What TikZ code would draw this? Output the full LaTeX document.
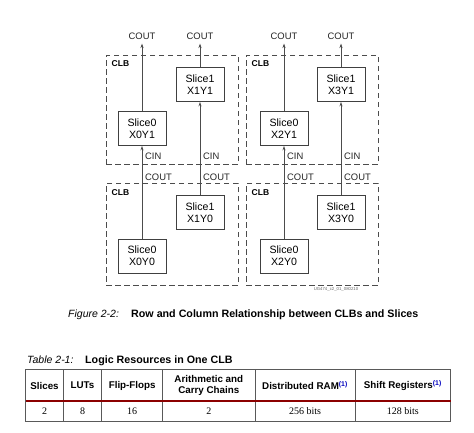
\documentclass[tikz,border=0pt]{standalone}
\usepackage{fontspec}
\setmainfont{Liberation Sans}
\newfontfamily\numfont{Liberation Serif}
\usetikzlibrary{arrows.meta}
\begin{document}
\begin{tikzpicture}[x=1pt,y=-1pt,
  clb/.style={draw=black!70, dash pattern=on 5.5pt off 3.5pt, line width=1pt, inner sep=0pt, outer sep=0pt},
  slicebox/.style={draw=black!75, line width=0.9pt, fill=white, minimum width=48pt, minimum height=34pt, align=center, font=\fontsize{10.6}{12.4}\selectfont, inner sep=0pt},
  carry/.style={draw=black!70, line width=0.7pt},
  arr/.style={carry, -{Stealth[length=4.5pt,width=3pt]}},
  lbl/.style={font=\fontsize{9.4}{10}\selectfont, inner sep=0pt, text=black!85},
  clblbl/.style={font=\bfseries\fontsize{8.5}{10}\selectfont, inner sep=0pt, anchor=west},
  hdr/.style={font=\bfseries\fontsize{9.8}{11.5}\selectfont, align=center, inner sep=0pt},
  cell/.style={font=\numfont\fontsize{10}{12}\selectfont, inner sep=0pt},
  tline/.style={draw=black!65, line width=0.8pt}
]
\useasboundingbox (0,0) rectangle (474,432);
\fill[white] (0,0) rectangle (474,432);

% CLB boxes
\node[clb, minimum width=132pt, minimum height=109pt] (clbTL) at (172,109.5) {};
\node[clb, minimum width=132pt, minimum height=109pt] (clbTR) at (312,109.5) {};
\node[clb, minimum width=132pt, minimum height=102pt] (clbBL) at (172,234) {};
\node[clb, minimum width=132pt, minimum height=102pt] (clbBR) at (312,234) {};

\node[clblbl] (lTL) at (111.5,63.5) {CLB};
\node[clblbl] (lTR) at (251.5,63.5) {CLB};
\node[clblbl] (lBL) at (111.5,192.5) {CLB};
\node[clblbl] (lBR) at (251.5,192.5) {CLB};

% Slices
\node[slicebox] (x0y1) at (142,128.5) {Slice0\\X0Y1};
\node[slicebox] (x1y1) at (200,84.5) {Slice1\\X1Y1};
\node[slicebox] (x2y1) at (284,128.5) {Slice0\\X2Y1};
\node[slicebox] (x3y1) at (341,84.5) {Slice1\\X3Y1};
\node[slicebox] (x0y0) at (142,256) {Slice0\\X0Y0};
\node[slicebox] (x1y0) at (200,212.5) {Slice1\\X1Y0};
\node[slicebox] (x2y0) at (284,256) {Slice0\\X2Y0};
\node[slicebox] (x3y0) at (341,212.5) {Slice1\\X3Y0};

% top outputs
\coordinate (t0) at (142,43.5);
\coordinate (t1) at (200,43.5);
\coordinate (t2) at (284,43.5);
\coordinate (t3) at (341,43.5);
\draw[arr] (x0y1.north) -- (t0);
\draw[arr] (x1y1.north) -- (t1);
\draw[arr] (x2y1.north) -- (t2);
\draw[arr] (x3y1.north) -- (t3);
\node[lbl] (c0) at (142,36) {COUT};
\node[lbl] (c1) at (200,36) {COUT};
\node[lbl] (c2) at (284,36) {COUT};
\node[lbl] (c3) at (341,36) {COUT};

% carry chains between rows
\draw[arr] (x0y0.north) -- (x0y1.south);
\draw[arr] (x1y0.north) -- (x1y1.south);
\draw[arr] (x2y0.north) -- (x2y1.south);
\draw[arr] (x3y0.north) -- (x3y1.south);

\node[lbl, anchor=west] (ci0) at (145,156) {CIN};
\node[lbl, anchor=west] (ci1) at (203,156) {CIN};
\node[lbl, anchor=west] (ci2) at (287,156) {CIN};
\node[lbl, anchor=west] (ci3) at (344,156) {CIN};
\node[lbl, anchor=west] (co0) at (145,177) {COUT};
\node[lbl, anchor=west] (co1) at (203,177) {COUT};
\node[lbl, anchor=west] (co2) at (287,177) {COUT};
\node[lbl, anchor=west] (co3) at (344,177) {COUT};

\node[font=\fontsize{4.3}{5}\selectfont, text=black!60, inner sep=0pt] (ug) at (336,289) {UG474\_c2\_01\_080210};

% caption
\node[anchor=base west, inner sep=0pt, font=\itshape\fontsize{10.5}{12}\selectfont] (fig) at (68,317) {Figure 2-2:};
\node[anchor=base west, inner sep=0pt, font=\bfseries\fontsize{10.7}{12}\selectfont] (cap) at (131,317) {Row and Column Relationship between CLBs and Slices};

% table title
\node[anchor=base west, inner sep=0pt, font=\itshape\fontsize{10.5}{12}\selectfont] (tab) at (27,363) {Table 2-1:};
\node[anchor=base west, inner sep=0pt, font=\bfseries\fontsize{10.7}{12}\selectfont] (tabt) at (85,363) {Logic Resources in One CLB};

% table grid
\draw[tline] (25.7,369.5) rectangle (450.7,421);
\foreach \xx in {63.3,101.7,162.7,255,355}
  \draw[tline] (\xx,369.5) -- (\xx,421);
\draw[draw=red!55!black, line width=1.3pt] (25.7,401) -- (450.7,401);

% header
\node[hdr] (h1) at (44.5,385.5) {Slices};
\node[hdr] (h2) at (82.5,385.5) {LUTs};
\node[hdr] (h3) at (132.2,385.5) {Flip-Flops};
\node[hdr] (h4) at (208.8,385.5) {Arithmetic and\\Carry Chains};
\node[hdr] (h5) at (305,385.5) {Distributed RAM\textsuperscript{\color{blue!75!black}(1)}};
\node[hdr] (h6) at (402.8,385.5) {Shift Registers\textsuperscript{\color{blue!75!black}(1)}};

% body
\node[cell] (b1) at (44.5,411) {2};
\node[cell] (b2) at (82.5,411) {8};
\node[cell] (b3) at (132.2,411) {16};
\node[cell] (b4) at (208.8,411) {2};
\node[cell] (b5) at (305,411) {256 bits};
\node[cell] (b6) at (402.8,411) {128 bits};
\end{tikzpicture}
\end{document}
